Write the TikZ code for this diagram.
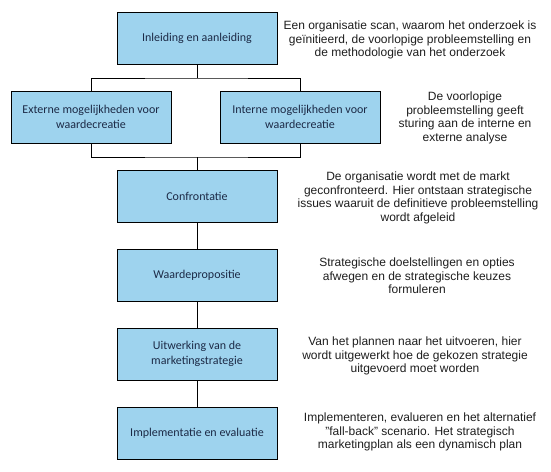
\documentclass[tikz,border=0pt]{standalone}
\usepackage{fontspec}
\setmainfont{Liberation Sans}
\newfontfamily\boxfont{Carlito}
\definecolor{boxfill}{RGB}{158,211,238}
\definecolor{boxtext}{RGB}{28,42,70}
\definecolor{desctext}{RGB}{30,30,30}
\begin{document}
\begin{tikzpicture}[x=1pt,y=-1pt,
  stepbox/.style={draw=black, line width=1pt, fill=boxfill, minimum width=160pt, minimum height=52pt,
    inner sep=2pt, align=center, text=boxtext, font=\boxfont\fontsize{12}{14.5}\selectfont},
  desc/.style={align=center, text=desctext, inner sep=0pt, font=\fontsize{12}{13.6}\selectfont},
  conn/.style={draw=black, line width=1pt}]
\useasboundingbox (0,0) rectangle (551,471);
\node[stepbox] (top) at (197,38) {Inleiding en aanleiding};
\node[stepbox] (ext) at (91,117) {Externe mogelijkheden voor\\waardecreatie};
\node[stepbox] (int) at (300,117) {Interne mogelijkheden voor\\waardecreatie};
\node[stepbox] (conf) at (197,196) {Confrontatie};
\node[stepbox] (waarde) at (197,275) {Waardepropositie};
\node[stepbox] (uitw) at (197,354) {Uitwerking van de\\marketingstrategie};
\node[stepbox] (impl) at (197,433) {Implementatie en evaluatie};
\coordinate (b1) at (197,78);
\coordinate (b2) at (197,157);
\draw[conn] (top.south) -- (b1);
\draw[conn] (ext.north) |- (b1) -| (int.north);
\draw[conn] (ext.south) |- (b2) -| (int.south);
\draw[conn] (b2) -- (conf.north);
\draw[conn] (conf.south) -- (waarde.north);
\draw[conn] (waarde.south) -- (uitw.north);
\draw[conn] (uitw.south) -- (impl.north);
\node[desc] (d1) at (410,40) {Een organisatie scan, waarom het onderzoek is\\geïnitieerd, de voorlopige probleemstelling en\\de methodologie van het onderzoek};
\node[desc] (d2) at (465,118) {De voorlopige\\probleemstelling geeft\\sturing aan de interne en\\externe analyse};
\node[desc] (d3) at (418,198) {De organisatie wordt met de markt\\geconfronteerd. Hier ontstaan strategische\\issues waaruit de definitieve probleemstelling\\wordt afgeleid};
\node[desc] (d4) at (417,276) {Strategische doelstellingen en opties\\afwegen en de strategische keuzes\\formuleren};
\node[desc] (d5) at (415,356) {Van het plannen naar het uitvoeren, hier\\wordt uitgewerkt hoe de gekozen strategie\\uitgevoerd moet worden};
\node[desc] (d6) at (420,432) {Implementeren, evalueren en het alternatief\\"fall-back" scenario. Het strategisch\\marketingplan als een dynamisch plan};
\end{tikzpicture}
\end{document}
